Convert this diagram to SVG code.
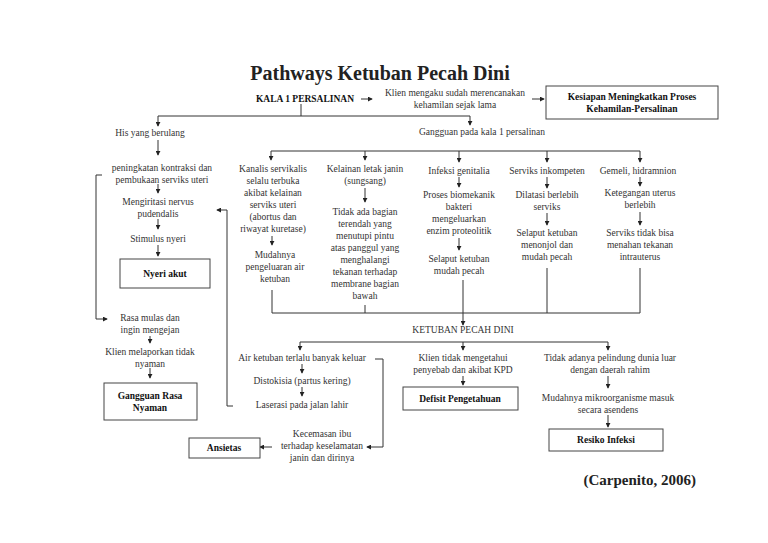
<svg xmlns="http://www.w3.org/2000/svg" width="768" height="543" viewBox="0 0 768 543">
<defs>
<marker id="ah" viewBox="0 0 6 6" refX="5" refY="3" markerWidth="5" markerHeight="5" orient="auto"><path d="M0,0 L6,3 L0,6 z" fill="#222"/></marker>
<style>
text{font-family:"Liberation Serif",serif;font-size:9.5px;fill:#333;text-anchor:middle}
.b{font-weight:bold;fill:#111}
.t{font-size:20px;font-weight:bold;fill:#222}
.c{font-size:15px;font-weight:bold;fill:#222}
.box{fill:#fff;stroke:#444;stroke-width:1}
.ln{fill:none;stroke:#333;stroke-width:1}
.ar{fill:none;stroke:#333;stroke-width:1;marker-end:url(#ah)}
</style>
</defs>
<rect width="768" height="543" fill="#fff"/>
<text class="t" x="380" y="80">Pathways Ketuban Pecah Dini</text>
<g id="connectors">
<path class="ar" d="M361,99 H372"/>
<path class="ar" d="M532,99 H544"/>
<path class="ln" d="M301,104 V116 M158,116 H470"/>
<path class="ar" d="M158,116 V126"/>
<path class="ar" d="M470,116 V125"/>
<path class="ln" d="M271,151 H640"/>
<path class="ar" d="M271,151 V160"/>
<path class="ar" d="M365,151 V160"/>
<path class="ar" d="M459,151 V162"/>
<path class="ar" d="M547,151 V162"/>
<path class="ar" d="M640,151 V162"/>
<path class="ar" d="M158,140 V155"/>
<path class="ar" d="M158,184 V193"/>
<path class="ar" d="M158,219 V229"/>
<path class="ar" d="M158,245 V256"/>
<path class="ln" d="M102,175 H96 V319"/>
<path class="ar" d="M96,319 H107"/>
<path class="ar" d="M150,336 V343"/>
<path class="ar" d="M150,368 V378"/>
<path class="ln" d="M233,406 H227 V210"/>
<path class="ar" d="M227,210 H217"/>
<path class="ar" d="M272,236 V245"/>
<path class="ar" d="M365,188 V202"/>
<path class="ar" d="M459,177 V187"/>
<path class="ar" d="M459,238 V250"/>
<path class="ar" d="M547,177 V188"/>
<path class="ar" d="M547,213 V225"/>
<path class="ar" d="M640,177 V186"/>
<path class="ar" d="M640,212 V225"/>
<path class="ln" d="M272,290 V313 H640 V268 M547,268 V313 M365,305 V313"/>
<path class="ar" d="M463,280 V325"/>
<path class="ln" d="M300,342 H608"/>
<path class="ar" d="M300,342 V350"/>
<path class="ar" d="M463,342 V350"/>
<path class="ar" d="M608,342 V350"/>
<path class="ar" d="M302,364 V373"/>
<path class="ar" d="M302,387 V396"/>
<path class="ln" d="M375,359 H383 V447"/>
<path class="ar" d="M383,447 H367"/>
<path class="ar" d="M272,447 H260"/>
<path class="ar" d="M463,376 V385"/>
<path class="ar" d="M608,376 V388"/>
<path class="ar" d="M608,415 V427"/>
</g>
<g id="n-kala"><text class="b" x="305" y="102">KALA 1 PERSALINAN</text></g>
<g id="n-klien"><text x="455" y="96">Klien mengaku sudah merencanakan</text><text x="455" y="108">kehamilan sejak lama</text></g>
<g id="n-kesiapan"><rect class="box" x="546" y="86" width="172" height="33"/><text class="b" x="632" y="100">Kesiapan Meningkatkan Proses</text><text class="b" x="632" y="112">Kehamilan-Persalinan</text></g>
<g id="n-his"><text x="150" y="136">His yang berulang</text></g>
<g id="n-gangguan"><text x="482" y="135">Gangguan pada kala 1 persalinan</text></g>
<g id="n-peningkatan"><text x="162" y="171">peningkatan kontraksi dan</text><text x="162" y="183">pembukaan serviks uteri</text></g>
<g id="n-mengiritasi"><text x="158" y="205">Mengiritasi nervus</text><text x="158" y="217">pudendalis</text></g>
<g id="n-stimulus"><text x="158" y="242">Stimulus nyeri</text></g>
<g id="n-nyeri"><rect class="box" x="120" y="259" width="90" height="29"/><text class="b" x="165" y="277">Nyeri akut</text></g>
<g id="n-rasa"><text x="150" y="321">Rasa mulas dan</text><text x="150" y="333">ingin mengejan</text></g>
<g id="n-melaporkan"><text x="150" y="355">Klien melaporkan tidak</text><text x="150" y="367">nyaman</text></g>
<g id="n-gangguan-nyaman"><rect class="box" x="104" y="383" width="93" height="37"/><text class="b" x="150" y="399">Gangguan Rasa</text><text class="b" x="150" y="411">Nyaman</text></g>
<g id="n-kanalis"><text x="273" y="172">Kanalis servikalis</text><text x="273" y="184">selalu terbuka</text><text x="273" y="196">akibat kelainan</text><text x="273" y="208">serviks uteri</text><text x="273" y="220">(abortus dan</text><text x="273" y="232">riwayat kuretase)</text></g>
<g id="n-mudahnya"><text x="275" y="258">Mudahnya</text><text x="275" y="270">pengeluaran air</text><text x="275" y="282">ketuban</text></g>
<g id="n-kelainan"><text x="365" y="172">Kelainan letak janin</text><text x="365" y="184">(sungsang)</text></g>
<g id="n-tidakada"><text x="365" y="215">Tidak ada bagian</text><text x="365" y="227">terendah yang</text><text x="365" y="239">menutupi pintu</text><text x="365" y="251">atas panggul yang</text><text x="365" y="263">menghalangi</text><text x="365" y="275">tekanan terhadap</text><text x="365" y="287">membrane bagian</text><text x="365" y="299">bawah</text></g>
<g id="n-infeksi"><text x="459" y="174">Infeksi genitalia</text></g>
<g id="n-proses"><text x="459" y="198">Proses biomekanik</text><text x="459" y="210">bakteri</text><text x="459" y="222">mengeluarkan</text><text x="459" y="234">enzim proteolitik</text></g>
<g id="n-selaput1"><text x="459" y="262">Selaput ketuban</text><text x="459" y="274">mudah pecah</text></g>
<g id="n-serviks"><text x="547" y="174">Serviks inkompeten</text></g>
<g id="n-dilatasi"><text x="547" y="198">Dilatasi berlebih</text><text x="547" y="210">serviks</text></g>
<g id="n-selaput2"><text x="547" y="236">Selaput ketuban</text><text x="547" y="248">menonjol dan</text><text x="547" y="260">mudah pecah</text></g>
<g id="n-gemeli"><text x="638" y="174">Gemeli, hidramnion</text></g>
<g id="n-ketegangan"><text x="640" y="196">Ketegangan uterus</text><text x="640" y="208">berlebih</text></g>
<g id="n-servikstidak"><text x="640" y="236">Serviks tidak bisa</text><text x="640" y="248">menahan tekanan</text><text x="640" y="260">intrauterus</text></g>
<g id="n-kpd"><text x="463" y="333">KETUBAN PECAH DINI</text></g>
<g id="n-air"><text x="302" y="361">Air ketuban terlalu banyak keluar</text></g>
<g id="n-distokia"><text x="302" y="384">Distokisia (partus kering)</text></g>
<g id="n-laserasi"><text x="302" y="408">Laserasi pada jalan lahir</text></g>
<g id="n-kecemasan"><text x="322" y="437">Kecemasan ibu</text><text x="322" y="449">terhadap keselamatan</text><text x="322" y="461">janin dan dirinya</text></g>
<g id="n-ansietas"><rect class="box" x="189" y="438" width="71" height="20"/><text class="b" x="224" y="451">Ansietas</text></g>
<g id="n-klientidak"><text x="463" y="361">Klien tidak mengetahui</text><text x="463" y="373">penyebab dan akibat KPD</text></g>
<g id="n-defisit"><rect class="box" x="403" y="387" width="115" height="23"/><text class="b" x="460" y="402">Defisit Pengetahuan</text></g>
<g id="n-tidakadanya"><text x="610" y="361">Tidak adanya pelindung dunia luar</text><text x="610" y="373">dengan daerah rahim</text></g>
<g id="n-mudahmikro"><text x="608" y="401">Mudahnya mikroorganisme masuk</text><text x="608" y="413">secara asendens</text></g>
<g id="n-resiko"><rect class="box" x="549" y="429" width="114" height="22"/><text class="b" x="606" y="443">Resiko Infeksi</text></g>
<text class="c" x="696" y="485" style="text-anchor:end">(Carpenito, 2006)</text>
</svg>
